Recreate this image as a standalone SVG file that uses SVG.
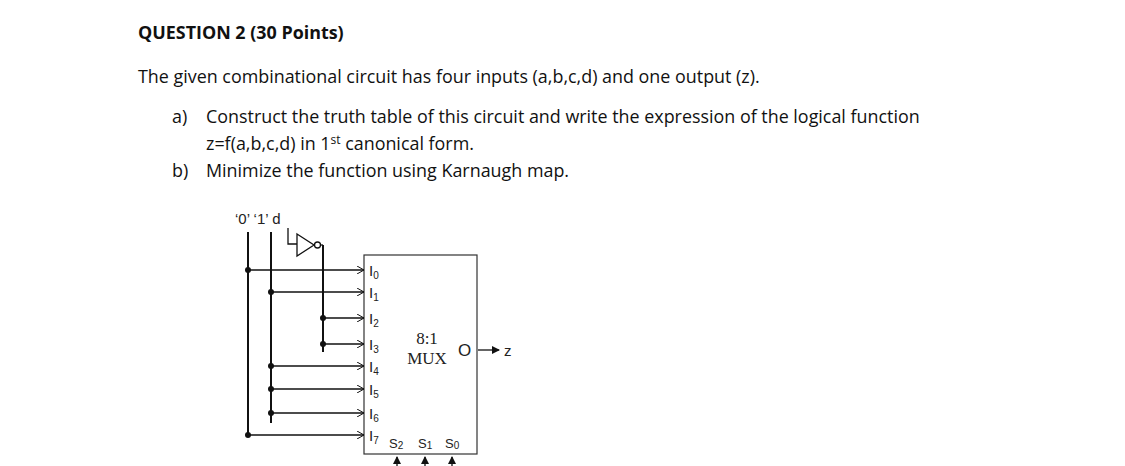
<svg xmlns="http://www.w3.org/2000/svg" width="1125" height="466" viewBox="0 0 1125 466">
<style>
.t{font-family:"Open Sans","Liberation Sans",sans-serif;font-size:17.9px;fill:#111}
.w{stroke:#111;stroke-width:2;fill:none}
.a{stroke:#111;stroke-width:1.3;fill:none}
.l{font-family:"Liberation Sans",sans-serif;font-size:15px;fill:#222}
.s{font-family:"Liberation Sans",sans-serif;font-size:10px;fill:#222}
.m{font-family:"Liberation Serif",serif;font-size:17px;fill:#222}
</style>
<defs><marker id="ah" markerWidth="8" markerHeight="8" refX="7" refY="4" orient="auto" markerUnits="userSpaceOnUse"><path d="M0,0 L7,4 L0,8" fill="none" stroke="#111" stroke-width="1"/></marker>
<marker id="fa" markerWidth="8" markerHeight="8" refX="7" refY="4" orient="auto" markerUnits="userSpaceOnUse"><path d="M0,0 L8,4 L0,8 Z" fill="#111"/></marker></defs>
<rect width="1125" height="466" fill="#fff"/>
<text class="t" x="138" y="39" font-weight="bold" font-size="17">QUESTION 2 (30 Points)</text>
<text class="t" x="138" y="83">The given combinational circuit has four inputs (a,b,c,d) and one output (z).</text>
<text class="t" x="172" y="123">a)</text>
<text class="t" x="206" y="123">Construct the truth table of this circuit and write the expression of the logical function</text>
<text class="t" x="206" y="150">z=f(a,b,c,d) in 1<tspan font-size="12" dy="-6">st</tspan><tspan dy="6"> canonical form.</tspan></text>
<text class="t" x="172" y="177">b)</text>
<text class="t" x="206" y="177">Minimize the function using Karnaugh map.</text>
<g id="labels"><text class="l" x="235" y="224" font-size="17">‘0’ ‘1’ d</text></g>
<g id="inverter"><path class="a" d="M288,228 V244 H297"/><path class="a" d="M297,234 L314,245 L297,256 Z"/><circle class="a" cx="317.5" cy="245" r="3"/><path class="a" d="M320.5,245 H323"/></g>
<g id="mux"><rect x="364" y="255" width="113" height="199" fill="#fff" stroke="#333" stroke-width="1.2"/>
<g class="l"><text x="369" y="276">I<tspan class="s" dy="3">0</tspan></text><text x="369" y="298">I<tspan class="s" dy="3">1</tspan></text><text x="369" y="324">I<tspan class="s" dy="3">2</tspan></text><text x="369" y="350">I<tspan class="s" dy="3">3</tspan></text><text x="369" y="372">I<tspan class="s" dy="3">4</tspan></text><text x="369" y="395">I<tspan class="s" dy="3">5</tspan></text><text x="369" y="419">I<tspan class="s" dy="3">6</tspan></text><text x="369" y="441">I<tspan class="s" dy="3">7</tspan></text>
<text x="389" y="448" font-size="13">S<tspan class="s" dy="1">2</tspan></text><text x="418" y="448" font-size="13">S<tspan class="s" dy="1">1</tspan></text><text x="445" y="448" font-size="13">S<tspan class="s" dy="1">0</tspan></text>
<text x="458" y="356" font-size="17">O</text></g>
<text class="m" x="427" y="344" text-anchor="middle">8:1</text><text class="m" x="427" y="364" text-anchor="middle">MUX</text></g>
<text class="l" x="504" y="356">z</text>
<g id="connectors">
<path class="w" d="M248,232 V435 M271,232 V423 M323,245 V352"/>
<g class="a" marker-end="url(#ah)"><path d="M248,270 H364"/><path d="M271,292 H364"/><path d="M323,318 H364"/><path d="M323,344 H364"/><path d="M271,366 H364"/><path d="M271,389 H364"/><path d="M271,413 H364"/><path d="M248,435 H364"/></g>
<g class="a" marker-end="url(#fa)"><path d="M478,350 H499"/><path d="M397,467 V457"/><path d="M425,467 V457"/><path d="M452,467 V457"/></g>
<g fill="#111"><circle cx="248" cy="270" r="3"/><circle cx="248" cy="435" r="3"/><circle cx="271" cy="292" r="3"/><circle cx="271" cy="366" r="3"/><circle cx="271" cy="389" r="3"/><circle cx="271" cy="413" r="3"/><circle cx="323" cy="318" r="3"/><circle cx="323" cy="344" r="3"/></g>
</g>
</svg>
